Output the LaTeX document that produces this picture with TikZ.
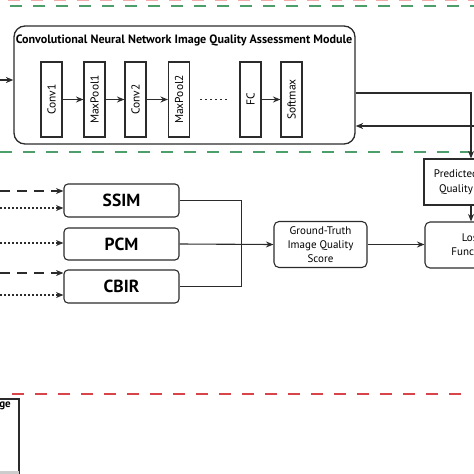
\documentclass[tikz,border=0pt]{standalone}
\usepackage{fontspec}
\setmainfont{PT Sans}
\usepackage{tikz}
\usetikzlibrary{arrows.meta, positioning, calc}
\definecolor{iline}{HTML}{2B2B2B}
\definecolor{igreen}{HTML}{4E9E6C}
\definecolor{ired}{HTML}{D9434A}
\definecolor{ipink}{HTML}{F2AAAA}
\tikzset{
  modbox/.style={draw=iline, line width=1.3pt, rounded corners=11pt},
  layerbox/.style={draw=iline, line width=1.1pt, minimum width=21pt, minimum height=75pt,
                   inner sep=0pt, font=\fontsize{11.5}{12}\selectfont},
  metricbox/.style={draw=iline, line width=1.1pt, rounded corners=4pt, minimum width=115pt,
                    inner sep=0pt, font=\fontsize{17.5}{20}\selectfont\bfseries},
  rbox/.style={draw=iline, line width=1.1pt, rounded corners=5pt, minimum height=46pt,
               align=center, inner sep=0pt, font=\fontsize{11}{14}\selectfont},
  sbox/.style={draw=iline, line width=1.1pt, minimum height=46pt,
               align=center, inner sep=0pt, font=\fontsize{11}{15}\selectfont},
  arr/.style={-{Stealth[length=7.5pt,width=6pt]}, line width=1.1pt, iline},
  plain/.style={line width=1.1pt, iline},
  longdash/.style={dash pattern=on 10pt off 7pt},
  shortdot/.style={dash pattern=on 2pt off 2pt},
  sepline/.style={line width=1.4pt, dash pattern=on 12pt off 11pt},
}
\begin{document}
\begin{tikzpicture}[x=1pt, y=-1pt]
  \useasboundingbox (0,0) rectangle (474,474);
  \clip (0,0) rectangle (474,474);

  % separators
  \draw[sepline, ipink] (8,0) -- (474,0);
  \draw[sepline, igreen] (10,6) -- (474,6);
  \draw[sepline, igreen] (0,152) -- (470,152);
  \draw[sepline, ired] (12,394) -- (463,394);

  % CNN module
  \node[modbox, minimum width=341pt, minimum height=118pt] (cnn) at (184.5,85) {};
  \node[font=\fontsize{12.1}{13}\selectfont\bfseries] (title) at (184,40)
    {Convolutional Neural Network Image Quality Assessment Module};

  \node[layerbox] (conv1) at (51.5,99.5) {\rotatebox{90}{Conv1}};
  \node[layerbox] (pool1) at (94.5,99.5) {\rotatebox{90}{MaxPool1}};
  \node[layerbox] (conv2) at (135.5,99.5) {\rotatebox{90}{Conv2}};
  \node[layerbox] (pool2) at (179,99.5) {\rotatebox{90}{MaxPool2}};
  \node[layerbox] (fc) at (250.5,99.5) {\rotatebox{90}{FC}};
  \node[layerbox] (soft) at (291.5,99.5) {\rotatebox{90}{Softmax}};

  \draw[arr] (conv1) -- (pool1);
  \draw[arr] (pool1) -- (conv2);
  \draw[arr] (conv2) -- (pool2);
  \draw[arr] (fc) -- (soft);
  \coordinate (d1) at ($(pool2.east)+(10,0)$);
  \coordinate (d2) at ($(fc.west)+(-12,0)$);
  \draw[line width=1.5pt, iline, dash pattern=on 2pt off 3pt] (d1) -- (d2);

  % input to module
  \coordinate (cin) at (0,80);
  \draw[arr] (cin) -- (cin -| cnn.west);

  % prediction and loss
  \node[sbox, minimum width=64pt] (pred) at (456,182) {Predicted\\Quality};
  \node[rbox, minimum width=94pt] (loss) at (472,245) {Loss\\Function};
  \coordinate (c1) at (471,93);
  \coordinate (c2) at (478,126);
  \draw[arr] (cnn.east |- c1) -- (c1) -- (c1 |- pred.north);
  \draw[arr] (c2) -- (c2 -| cnn.east);
  \draw[arr] (pred.south -| c1) -- (loss.north -| c1);

  % metrics
  \node[metricbox, minimum height=33pt] (ssim) at (121.5,200.5) {SSIM};
  \node[metricbox, minimum height=32pt] (pcm) at (121.5,244) {PCM};
  \node[metricbox, minimum height=33pt] (cbir) at (121.5,286.5) {CBIR};
  \node[rbox, minimum width=93pt] (gt) at (320.5,244.5) {Ground-Truth\\Image Quality\\Score};

  \draw[plain] (ssim.east) -- ++(62,0) |- (cbir.east);
  \draw[arr] (pcm.east) -- (gt.west);
  \draw[arr] (gt.east) -- (gt.east -| loss.west);

  % inputs to metrics
  \coordinate (a1) at (0,191);
  \coordinate (a2) at (0,208);
  \coordinate (a3) at (0,243);
  \coordinate (a4) at (0,273);
  \coordinate (a5) at (0,295);
  \draw[arr, longdash] (a1) -- (a1 -| ssim.west);
  \draw[arr, shortdot] (a2) -- (a2 -| ssim.west);
  \draw[arr, shortdot] (a3) -- (a3 -| pcm.west);
  \draw[arr, longdash] (a4) -- (a4 -| cbir.west);
  \draw[arr, shortdot] (a5) -- (a5 -| cbir.west);

  % bottom left
  \node[draw=iline, line width=1.1pt, minimum width=40pt, minimum height=90pt] (low) at (-1,444) {};
  \fill[gray!40] (0,471) rectangle (19,474);
  \node[anchor=north east, inner sep=0pt, font=\fontsize{11}{12}\selectfont\bfseries] (lowtxt) at (11,402) {ge};
\end{tikzpicture}
\end{document}
